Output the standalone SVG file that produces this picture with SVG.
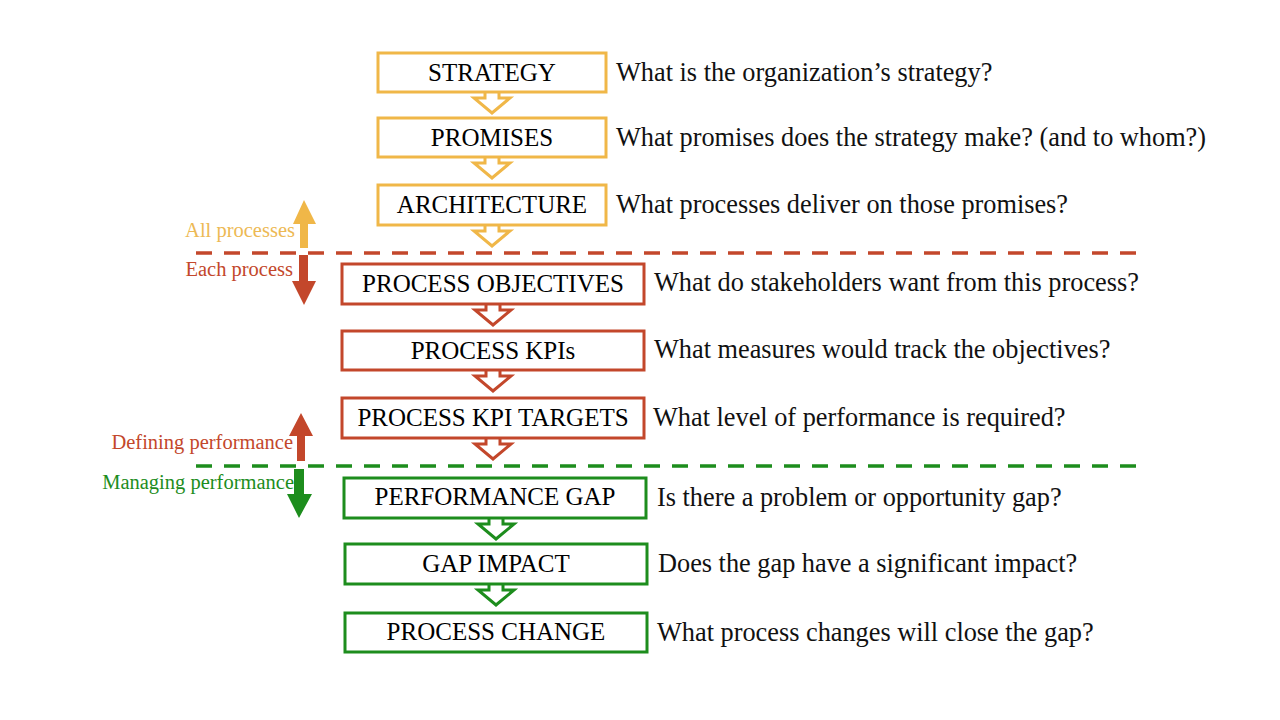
<svg xmlns="http://www.w3.org/2000/svg" width="1280" height="720" viewBox="0 0 1280 720">
<defs>
<style>
.box{fill:#fff;stroke-width:3;}
.y{stroke:#F0B748;}
.r{stroke:#C3472B;}
.g{stroke:#1D8D1D;}
.chev{fill:#fff;stroke-width:3;stroke-linejoin:miter;}
.bt{font-family:"Liberation Serif",serif;font-size:25px;fill:#000;text-anchor:middle;}
.q{font-family:"Liberation Serif",serif;font-size:26.3px;fill:#111;}
.lab{font-family:"Liberation Serif",serif;font-size:20.5px;text-anchor:end;}
.dash{stroke-width:3.5;stroke-dasharray:16 12;fill:none;}
</style>
</defs>
<rect width="1280" height="720" fill="#fff"/>

<g id="connectors">
<path class="chev y" d="M485,92 V98 H474 L492,113 L510,98 H499 V92"/>
<path class="chev y" d="M485,157 V163 H474 L492,178 L510,163 H499 V157"/>
<path class="chev y" d="M485,225 V231 H474 L492,246 L510,231 H499 V225"/>
<path class="chev r" d="M486,304 V310 H475 L493,325 L511,310 H500 V304"/>
<path class="chev r" d="M486,370 V376 H475 L493,391 L511,376 H500 V370"/>
<path class="chev r" d="M486,438 V444 H475 L493,459 L511,444 H500 V438"/>
<path class="chev g" d="M489,518 V524 H478 L496,539 L514,524 H503 V518"/>
<path class="chev g" d="M489,584 V590 H478 L496,605 L514,590 H503 V584"/>
</g>

<g id="dividers">
<line class="dash r" x1="196" y1="253" x2="1136" y2="253"/>
<line class="dash g" x1="196" y1="466" x2="1136" y2="466"/>
</g>

<g id="side-arrows">
<path fill="#F0B748" d="M300,248 V224 H293 L304,200 L316,224 H308 V248 Z"/>
<path fill="#C3472B" d="M299,255 V281 H292 L304,305 L316,281 H308 V255 Z"/>
<path fill="#C3472B" d="M297,461 V436 H289 L301,413 L313,436 H305 V461 Z"/>
<path fill="#1D8D1D" d="M294,469 V494 H287 L299,518 L312,494 H304 V469 Z"/>
</g>

<g id="side-labels">
<text class="lab" x="295" y="237" fill="#EDB954">All processes</text>
<text class="lab" x="293" y="276" fill="#C3472B">Each process</text>
<text class="lab" x="293" y="449" fill="#C3472B">Defining performance</text>
<text class="lab" x="294" y="489" fill="#1D8D1D">Managing performance</text>
</g>

<g id="node-strategy">
<rect class="box y" x="378" y="53" width="228" height="39"/>
<text class="bt" x="492" y="81">STRATEGY</text>
<text class="q" x="616" y="81">What is the organization’s strategy?</text>
</g>
<g id="node-promises">
<rect class="box y" x="378" y="118" width="228" height="39"/>
<text class="bt" x="492" y="146">PROMISES</text>
<text class="q" x="616" y="146">What promises does the strategy make? (and to whom?)</text>
</g>
<g id="node-architecture">
<rect class="box y" x="378" y="185" width="228" height="40"/>
<text class="bt" x="492" y="213">ARCHITECTURE</text>
<text class="q" x="616" y="213">What processes deliver on those promises?</text>
</g>

<g id="node-process-objectives">
<rect class="box r" x="342" y="264" width="302" height="40"/>
<text class="bt" x="493" y="292">PROCESS OBJECTIVES</text>
<text class="q" x="654" y="291">What do stakeholders want from this process?</text>
</g>
<g id="node-process-kpis">
<rect class="box r" x="342" y="331" width="302" height="39"/>
<text class="bt" x="493" y="359">PROCESS KPIs</text>
<text class="q" x="654" y="358">What measures would track the objectives?</text>
</g>
<g id="node-process-kpi-targets">
<rect class="box r" x="342" y="398" width="302" height="40"/>
<text class="bt" x="493" y="426">PROCESS KPI TARGETS</text>
<text class="q" x="653" y="426">What level of performance is required?</text>
</g>

<g id="node-performance-gap">
<rect class="box g" x="344" y="478" width="302" height="40"/>
<text class="bt" x="495" y="505">PERFORMANCE GAP</text>
<text class="q" x="657" y="506">Is there a problem or opportunity gap?</text>
</g>
<g id="node-gap-impact">
<rect class="box g" x="345" y="544" width="302" height="40"/>
<text class="bt" x="496" y="572">GAP IMPACT</text>
<text class="q" x="658" y="572">Does the gap have a significant impact?</text>
</g>
<g id="node-process-change">
<rect class="box g" x="345" y="613" width="302" height="39"/>
<text class="bt" x="496" y="640">PROCESS CHANGE</text>
<text class="q" x="657" y="641">What process changes will close the gap?</text>
</g>
</svg>
